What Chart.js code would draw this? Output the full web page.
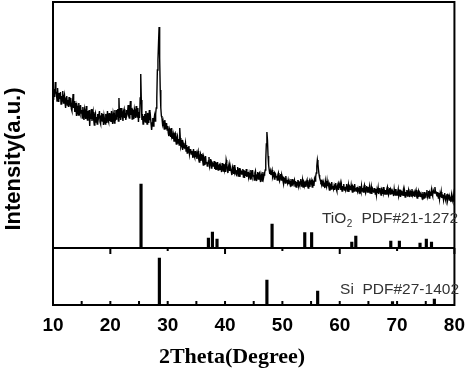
<!DOCTYPE html>
<html>
<head>
<meta charset="utf-8">
<script src="https://cdn.jsdelivr.net/npm/chart.js@4.4.1/dist/chart.umd.min.js"></script>
<style>
  html, body { margin: 0; padding: 0; background: #fff; }
</style>
</head>
<body>
<canvas id="xrdChart" width="474" height="369"></canvas>
<script>
// measured pattern, one value every 0.1 deg from 10 to 80 (one row per degree)
const thetaStart = 10;
const thetaStep = 0.1;
const intensity = [
  156,148,159,151,166,157,154,147,160,150,
  146,155,149,156,144,152,147,157,145,150,
  153,145,140,150,152,143,148,141,151,146,
  142,150,139,137,145,154,140,147,136,145,
  140,132,142,139,133,145,136,134,143,135,
  138,130,141,133,128,139,136,129,142,132,
  128,137,131,138,122,134,129,139,127,132,
  136,128,123,133,135,126,131,124,134,129,
  129,137,126,124,132,135,127,134,123,132,
  132,124,134,131,125,137,128,126,135,127,
  134,126,137,129,124,135,132,125,138,128,
  129,138,132,139,127,150,130,140,128,133,
  140,132,127,137,139,130,135,128,138,133,
  135,143,132,130,138,147,133,140,129,138,
  137,129,139,136,130,142,133,131,140,126,
  136,130,150,174,148,128,134,124,132,127,
  134,126,137,129,124,135,132,125,138,128,
  131,124,118,125,130,122,128,132,127,134,
  140,150,178,188,205,221,190,158,140,132,
  130,124,127,123,119,128,122,119,125,118,
  122,115,112,119,117,111,120,112,114,109,
  113,107,114,115,108,104,110,112,105,109,
  103,120,110,101,103,108,98,105,103,100,
  101,105,97,103,95,101,96,102,94,98,
  99,94,97,94,90,99,93,91,97,91,
  94,89,95,97,89,86,92,94,87,92,
  93,87,83,91,89,83,92,85,86,82,
  83,87,91,82,85,89,80,86,85,82,
  82,87,79,86,78,85,79,86,78,82,
  83,78,82,79,76,85,80,77,84,78,
  81,76,88,85,78,75,81,84,77,82,
  82,76,73,81,79,74,83,76,78,74,
  73,77,81,72,75,80,71,78,77,74,
  74,79,71,78,70,77,72,79,71,75,
  76,71,75,72,69,78,73,71,78,72,
  73,68,75,77,70,67,73,76,69,74,
  75,69,66,74,72,67,76,70,73,75,
  78,88,104,116,108,92,83,78,74,77,
  73,76,78,71,73,76,69,75,74,71,
  72,68,73,75,69,67,72,74,68,73,
  71,67,64,70,69,65,72,66,68,65,
  68,64,67,65,62,69,65,63,69,64,
  64,68,62,67,61,66,63,68,62,65,
  63,66,69,62,64,68,61,67,66,63,
  65,61,66,68,62,60,65,67,61,66,
  68,64,61,67,66,62,69,67,71,75,
  82,88,84,78,73,70,68,66,67,64,
  66,62,65,63,60,67,63,61,67,62,
  65,61,58,64,63,59,66,60,62,59,
  62,58,63,65,59,57,62,64,58,63,
  60,64,58,63,57,62,59,64,58,61,
  58,61,64,57,59,63,56,62,61,58,
  63,59,56,62,61,57,64,58,60,57,
  61,57,60,58,55,62,58,56,62,57,
  60,56,61,63,57,55,60,62,56,61,
  56,59,62,55,57,61,54,60,59,56,
  56,60,54,59,53,58,55,60,54,57,
  60,56,53,59,58,54,61,55,57,54,
  58,54,59,61,55,53,58,60,54,59,
  58,54,57,55,52,59,55,53,59,54,
  53,56,59,52,54,58,51,57,56,53,
  54,58,52,57,51,56,53,58,52,55,
  58,54,51,57,56,52,59,53,55,52,
  55,51,56,58,52,50,55,57,51,56,
  55,51,54,52,49,56,52,50,56,51,
  52,55,58,51,53,57,50,56,55,52,
  58,54,52,58,58,55,61,56,56,53,
  52,56,50,55,49,54,51,56,50,53,
  52,48,53,55,49,47,52,54,48,53,
  52,48,51,49,46,53,49,47,53,48,
  49
];

// reference sticks
const tio2Pos = [25.35, 37.1, 37.8, 38.6, 48.2, 53.9, 55.1, 62.1, 62.8, 68.9, 70.4, 74.0, 75.1, 76.0];
const tio2Height = [64, 10, 16, 9, 24, 15.5, 15.5, 6, 12, 7, 7, 5, 9, 6];
const siPos = [28.55, 47.3, 56.15, 69.2, 76.5];
const siHeight = [47, 25, 14, 3.5, 6];

const xTicks = [10, 20, 30, 40, 50, 60, 70, 80];
const lowerBase = -57;

const curve = intensity.map((v, i) => ({ x: thetaStart + i * thetaStep, y: v }));
const tio2Bars = tio2Pos.map((p, i) => ({ x: p, y: [0, tio2Height[i]] }));
const siBars = siPos.map((p, i) => ({ x: p, y: [lowerBase, lowerBase + siHeight[i]] }));

const framePlugin = {
  id: 'frame',
  afterDraw(chart) {
    const c = chart.ctx;
    const a = chart.chartArea;
    const xs = chart.scales.x;
    const ys = chart.scales.y;
    const yDiv = ys.getPixelForValue(0);

    c.save();
    c.strokeStyle = '#000';
    c.lineWidth = 2;
    c.strokeRect(a.left, a.top, a.right - a.left, a.bottom - a.top);
    c.beginPath();
    c.moveTo(a.left, yDiv);
    c.lineTo(a.right, yDiv);
    c.stroke();

    // ticks under the divider
    c.beginPath();
    for (let v = 20; v <= 80; v += 10) {
      const px = xs.getPixelForValue(v);
      const len = v % 20 === 0 ? 6 : 3;
      c.moveTo(px, yDiv);
      c.lineTo(px, yDiv + len);
    }
    // inner ticks on the bottom axis
    for (let v = 15; v < 80; v += 5) {
      const px = xs.getPixelForValue(v);
      c.moveTo(px, a.bottom);
      c.lineTo(px, a.bottom - 4);
    }
    c.stroke();

    // labels of the reference cards
    const f = '15.5px "Liberation Sans", Arial, sans-serif';
    const fs = '10px "Liberation Sans", Arial, sans-serif';
    c.fillStyle = '#333';
    c.textBaseline = 'alphabetic';
    c.font = f;
    const rest = '  PDF#21-1272';
    const wRest = c.measureText(rest).width;
    const wTi = c.measureText('TiO').width;
    c.font = fs;
    const wSub = c.measureText('2').width + 1;
    const tx = 458 - wRest - wSub - wTi;
    c.textAlign = 'left';
    c.fillText('2', tx + wTi + 0.5, 227);
    c.font = f;
    c.fillText('TiO', tx, 223);
    c.fillText(rest, tx + wTi + wSub, 223);
    c.textAlign = 'right';
    c.fillText('Si  PDF#27-1402', 459, 294);

    // axis titles
    c.fillStyle = '#000';
    c.textAlign = 'center';
    c.font = 'bold 22px "Liberation Serif", "Times New Roman", serif';
    c.fillText('2Theta(Degree)', 232, 363);
    c.translate(20, 159);
    c.rotate(-Math.PI / 2);
    c.font = 'bold 22px "Liberation Sans", Arial, sans-serif';
    c.fillText('Intensity(a.u.)', 0, 0);
    c.restore();
  }
};

new Chart(document.getElementById('xrdChart').getContext('2d'), {
  type: 'line',
  data: {
    datasets: [
      {
        type: 'line',
        data: curve,
        borderColor: '#000',
        borderWidth: 1.4,
        pointRadius: 0,
        tension: 0
      },
      {
        type: 'bar',
        data: tio2Bars,
        backgroundColor: '#000',
        barThickness: 2.5,
        grouped: false
      },
      {
        type: 'bar',
        data: siBars,
        backgroundColor: '#000',
        barThickness: 2.5,
        grouped: false
      }
    ]
  },
  options: {
    responsive: false,
    animation: false,
    layout: { padding: { top: 2, right: 12, left: 0, bottom: 0 } },
    plugins: { legend: { display: false }, tooltip: { enabled: false } },
    scales: {
      x: {
        type: 'linear',
        min: 10,
        max: 80,
        offset: false,
        afterBuildTicks: s => { s.ticks = xTicks.map(v => ({ value: v })); },
        afterFit: s => { s.height = 64; },
        grid: { display: false, drawTicks: false },
        border: { display: false },
        ticks: {
          color: '#000',
          padding: 9,
          maxRotation: 0,
          font: { family: '"Liberation Sans", Arial, sans-serif', size: 19, weight: 'bold' }
        }
      },
      y: {
        min: lowerBase,
        max: 246,
        afterFit: s => { s.width = 53; },
        grid: { display: false, drawTicks: false },
        border: { display: false },
        ticks: { display: false }
      }
    }
  },
  plugins: [framePlugin]
});
</script>
</body>
</html>
